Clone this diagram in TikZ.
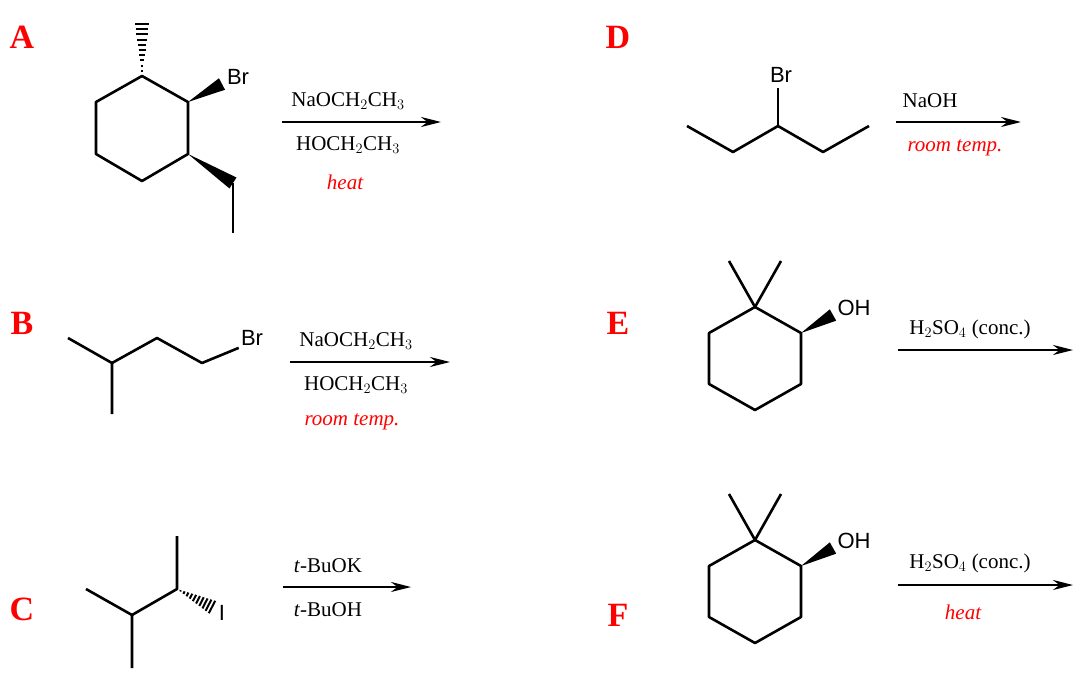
\documentclass[tikz,border=0pt]{standalone}
\usepackage{fontspec}
\setmainfont{Liberation Serif}
\newfontfamily\atomfont{Liberation Sans}
\usetikzlibrary{calc,arrows.meta}
\newcommand{\hashb}[2]{\foreach \t in {0.1,0.2,...,1.0}{\coordinate (hp) at ($(#1)!\t!(#2)$); \draw[line width=2pt] ($(hp)!\t*7pt!90:(#2)$) -- ($(hp)!\t*7pt!-90:(#2)$);}}
\newcommand{\wedgeb}[2]{\fill (#1) -- ($(#2)!6.5pt!90:(#1)$) -- ($(#2)!6.5pt!-90:(#1)$) -- cycle;}
\begin{document}
\begin{tikzpicture}[x=1pt,y=-1pt,line width=2.6pt,line join=round,
 lbl/.style={text=red,font=\fontsize{34}{38}\selectfont\bfseries},
 rg/.style={font=\fontsize{21}{24}\selectfont},
 cond/.style={text=red,font=\fontsize{21}{24}\selectfont\itshape},
 atom/.style={font=\atomfont\fontsize{22}{24}\selectfont,inner sep=1pt},
 rxn/.style={-{Stealth[length=20pt,width=10pt]},line width=2.4pt}]
\useasboundingbox (0,0) rectangle (1075,683);
% labels
\node[lbl] (LA) at (22,37) {A};
\node[lbl] (LB) at (22,323) {B};
\node[lbl] (LC) at (22,609) {C};
\node[lbl] (LD) at (618,37) {D};
\node[lbl] (LE) at (618,323) {E};
\node[lbl] (LF) at (618,615) {F};
% A
\coordinate (a1) at (142,76); \coordinate (a2) at (188,102); \coordinate (a3) at (188,154);
\coordinate (a4) at (142,181); \coordinate (a5) at (96,154); \coordinate (a6) at (96,102);
\draw (a1)--(a2)--(a3)--(a4)--(a5)--(a6)--cycle;
\coordinate (am) at (142,24); \hashb{a1}{am}
\coordinate (abr) at (222,84); \wedgeb{a2}{abr}
\node[atom] (BrA) at (238,77) {Br};
\coordinate (ae1) at (233,183); \wedgeb{a3}{ae1}
\coordinate (ae2) at (233,233); \draw (ae1)--(ae2);
\coordinate (arA1) at (282,122); \coordinate (arA2) at (441,122);
\draw[rxn] (arA1)--(arA2);
\node[rg] (tA1) at (348,101) {NaOCH$_2$CH$_3$};
\node[rg] (tA2) at (348,145) {HOCH$_2$CH$_3$};
\node[cond] (tA3) at (345,182) {heat};
% B
\coordinate (b1) at (68,338); \coordinate (b2) at (112,363); \coordinate (b3) at (112,414);
\coordinate (b4) at (157,338); \coordinate (b5) at (202,363);
\node[atom] (BrB) at (252,338) {Br};
\draw (b1)--(b2)--(b3); \draw (b2)--(b4)--(b5)--(BrB.south west);
\coordinate (arB1) at (290,362); \coordinate (arB2) at (450,362);
\draw[rxn] (arB1)--(arB2);
\node[rg] (tB1) at (356,341) {NaOCH$_2$CH$_3$};
\node[rg] (tB2) at (356,385) {HOCH$_2$CH$_3$};
\node[cond] (tB3) at (352,422) {room temp.};
% C
\coordinate (c1) at (86,589); \coordinate (c2) at (132,615); \coordinate (c3) at (132,668);
\coordinate (c4) at (177,589); \coordinate (c5) at (177,536); \coordinate (ci) at (212,607);
\draw (c1)--(c2)--(c3); \draw (c2)--(c4)--(c5);
\hashb{c4}{ci}
\node[atom] (IC) at (222,613) {I};
\coordinate (arC1) at (283,587); \coordinate (arC2) at (411,587);
\draw[rxn] (arC1)--(arC2);
\node[rg] (tC1) at (328,566) {\textit{t}-BuOK};
\node[rg] (tC2) at (328,610) {\textit{t}-BuOH};
% D
\coordinate (d1) at (687,126); \coordinate (d2) at (733,152); \coordinate (d3) at (778,126);
\coordinate (d4) at (823,152); \coordinate (d5) at (869,126); \coordinate (dbr) at (778,88);
\node[atom] (BrD) at (781,75) {Br};
\draw (d1)--(d2)--(d3)--(d4)--(d5); \draw (d3)--(dbr);
\coordinate (arD1) at (896,122); \coordinate (arD2) at (1021,122);
\draw[rxn] (arD1)--(arD2);
\node[rg] (tD1) at (930,101) {NaOH};
\node[cond] (tD2) at (955,148) {room temp.};
% E and F
\foreach \dy/\nm in {0/E,233/F}{
 \begin{scope}[yshift=-\dy]
 \coordinate (e1) at (755,307); \coordinate (e2) at (801,333); \coordinate (e3) at (801,384);
 \coordinate (e4) at (755,410); \coordinate (e5) at (709,384); \coordinate (e6) at (709,333);
 \draw (e1)--(e2)--(e3)--(e4)--(e5)--(e6)--cycle;
 \coordinate (em1) at (729,261); \coordinate (em2) at (781,261);
 \draw (em1)--(e1)--(em2);
 \coordinate (eo) at (833,315); \wedgeb{e2}{eo}
 \node[atom] (OH\nm) at (854,308) {OH};
 \end{scope}}
\coordinate (arE1) at (898,350); \coordinate (arE2) at (1073,350);
\draw[rxn] (arE1)--(arE2);
\node[rg] (tE1) at (970,329) {H$_2$SO$_4$ (conc.)};
\coordinate (arF1) at (898,585); \coordinate (arF2) at (1073,585);
\draw[rxn] (arF1)--(arF2);
\node[rg] (tF1) at (970,563) {H$_2$SO$_4$ (conc.)};
\node[cond] (tF2) at (963,612) {heat};
\end{tikzpicture}
\end{document}
